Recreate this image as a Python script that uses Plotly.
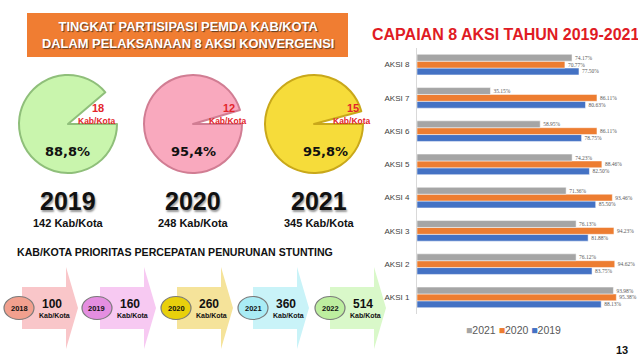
import plotly.graph_objects as go

W, H = 638, 359

# ---------------- data ----------------
aksi = ["AKSI 1", "AKSI 2", "AKSI 3", "AKSI 4", "AKSI 5", "AKSI 6", "AKSI 7", "AKSI 8"]
v2019 = [88.13, 83.75, 81.88, 85.50, 82.50, 78.75, 80.63, 77.50]
v2020 = [95.38, 94.62, 94.23, 93.46, 88.46, 86.11, 86.11, 70.77]
v2021 = [93.98, 76.12, 76.13, 71.36, 74.23, 58.95, 35.15, 74.17]
series_names = ["2019", "2020", "2021"]

pie_years = ["2019", "2020", "2021"]
pie_pct = [88.8, 95.4, 95.8]
pie_total = [142, 248, 345]
pie_missing = [18, 12, 15]

prio_years = ["2018", "2019", "2020", "2021", "2022"]
prio_counts = [100, 160, 260, 360, 514]

# ---------------- styles ----------------
bar_colors = {"2019": "#4472c4", "2020": "#ed7d31", "2021": "#a5a5a5"}
pie_fill = ["#c9f5ad", "#f9a9be", "#f6dc3a"]
pie_edge = ["#8fbf7a", "#d17d93", "#c9a81a"]
pie_cx = [68, 193, 314]
pie_cy = 124
pie_r = 49
arrow_fill = ["#f9c6c9", "#f7c9f2", "#f5e39a", "#c9f3f8", "#d9f8c9"]
ell_fill = ["#f2a08e", "#e48ee0", "#e8d00c", "#a9ecf5", "#bdee9f"]
prio_cx = [19, 97, 176, 253, 330]

NARROW = "Liberation Sans Narrow, Arial Narrow, Liberation Sans, Arial, sans-serif"
SANS = "Liberation Sans, Arial, sans-serif"
DEJA = "DejaVu Sans, Verdana, sans-serif"


def px(x):
    return x / W


def py(y):
    return 1 - y / H


fig = go.Figure()

# ---------------- bar chart ----------------
for name, vals in zip(series_names, [v2019, v2020, v2021]):
    fig.add_trace(go.Bar(
        y=aksi, x=vals, name=name, orientation="h",
        marker=dict(color=bar_colors[name], line=dict(color="white", width=0.5)),
        text=[f"{v:.2f}%" for v in vals], textposition="outside",
        textfont=dict(size=5.5, color="#595959", family="Liberation Serif, Times New Roman, serif"),
        constraintext="none", cliponaxis=False, showlegend=False,
        hoverinfo="x+y+name",
    ))

# ---------------- pies ----------------
for i in range(3):
    cx = pie_cx[i]
    fig.add_trace(go.Pie(
        values=[pie_pct[i], 100 - pie_pct[i]],
        labels=["Partisipasi", "Belum"],
        sort=False, direction="clockwise", rotation=90,
        marker=dict(colors=[pie_fill[i], "rgba(0,0,0,0)"],
                    line=dict(color=[pie_edge[i], "rgba(0,0,0,0)"], width=2)),
        textinfo="none", showlegend=False, hoverinfo="label+value",
        domain=dict(x=[px(cx - pie_r), px(cx + pie_r)],
                    y=[py(pie_cy + pie_r), py(pie_cy - pie_r)]),
    ))

shapes = []
annotations = []

# banner
shapes.append(dict(type="rect", xref="paper", yref="paper",
                   x0=px(27), x1=px(348), y0=py(57), y1=py(13),
                   fillcolor="#f07d32", line=dict(width=0), layer="below"))
annotations.append(dict(
    x=px(188), y=py(35), xref="paper", yref="paper", showarrow=False,
    text="<b>TINGKAT PARTISIPASI PEMDA KAB/KOTA<br>DALAM PELAKSANAAN 8 AKSI KONVERGENSI</b>",
    font=dict(family=NARROW, size=12.9, color="white", shadow="1px 1px 1px #5a3a20"),
    xanchor="center", yanchor="middle", align="center"))

# pie texts
pct_x = [67, 193, 325]
red_x = [97, 228, 352]
for i in range(3):
    annotations.append(dict(
        x=px(pct_x[i]), y=py(151), xref="paper", yref="paper", showarrow=False,
        text=f"<b>{str(pie_pct[i]).replace('.', ',')}%</b>",
        font=dict(family=DEJA, size=13, color="#111"), xanchor="center", yanchor="middle"))
    annotations.append(dict(
        x=px(red_x[i] + 1), y=py(108), xref="paper", yref="paper", showarrow=False,
        text=f"<b>{pie_missing[i]}</b>",
        font=dict(family=NARROW, size=11, color="#e3262b"), xanchor="center", yanchor="middle"))
    annotations.append(dict(
        x=px(red_x[i]), y=py(121), xref="paper", yref="paper", showarrow=False,
        text="<b>Kab/Kota</b>",
        font=dict(family=NARROW, size=8.5, color="#e3262b"), xanchor="center", yanchor="middle"))
    yx = [68, 193, 319][i]
    annotations.append(dict(
        x=px(yx), y=py(201), xref="paper", yref="paper", showarrow=False,
        text=f"<b>{pie_years[i]}</b>",
        font=dict(family=SANS, size=25, color="#111", shadow="1px 2px 2px #999"),
        xanchor="center", yanchor="middle"))
    annotations.append(dict(
        x=px(yx), y=py(223), xref="paper", yref="paper", showarrow=False,
        text=f"<b>{pie_total[i]} Kab/Kota</b>",
        font=dict(family=SANS, size=11, color="#111"), xanchor="center", yanchor="middle"))

# bottom-left section title
annotations.append(dict(
    x=px(175), y=py(252), xref="paper", yref="paper", showarrow=False,
    text="<b>KAB/KOTA PRIORITAS PERCEPATAN PENURUNAN STUNTING</b>",
    font=dict(family=SANS, size=10.6, color="#111"), xanchor="center", yanchor="middle"))

# arrows + ellipses
arrow_x0 = [22, 100, 177, 253, 330]
for i in range(5):
    x0 = arrow_x0[i]
    xb = x0 + 44
    xt = x0 + 56
    path = (f"M {px(x0)},{py(287)} L {px(xb)},{py(287)} L {px(xb)},{py(267)} "
            f"L {px(xt)},{py(308)} L {px(xb)},{py(349)} L {px(xb)},{py(329)} "
            f"L {px(x0)},{py(329)} Z")
    shapes.append(dict(type="path", xref="paper", yref="paper", path=path,
                       fillcolor=arrow_fill[i], line=dict(width=0), layer="below"))
    cx = prio_cx[i]
    shapes.append(dict(type="circle", xref="paper", yref="paper",
                       x0=px(cx - 15), x1=px(cx + 15), y0=py(319.5), y1=py(296.5),
                       fillcolor=ell_fill[i], line=dict(color="#7a7a7a", width=1.2)))
    annotations.append(dict(
        x=px(cx), y=py(308), xref="paper", yref="paper", showarrow=False,
        text=f"<b>{prio_years[i]}</b>",
        font=dict(family=NARROW, size=7.5, color="#111"), xanchor="center", yanchor="middle"))
    annotations.append(dict(
        x=px(cx + 33), y=py(304), xref="paper", yref="paper", showarrow=False,
        text=f"<b>{prio_counts[i]}</b>",
        font=dict(family=NARROW, size=12, color="#111"), xanchor="center", yanchor="middle"))
    annotations.append(dict(
        x=px(cx + 35), y=py(315.5), xref="paper", yref="paper", showarrow=False,
        text="<b>Kab/Kota</b>",
        font=dict(family=NARROW, size=7, color="#111"), xanchor="center", yanchor="middle"))

# bar chart title
annotations.append(dict(
    x=px(505), y=py(35), xref="paper", yref="paper", showarrow=False,
    text="<b>CAPAIAN 8 AKSI TAHUN 2019-2021</b>",
    font=dict(family=SANS, size=16, color="#e01b24"), xanchor="center", yanchor="middle"))

# custom legend
leg = " ".join(
    f"<span style='color:{bar_colors[n]}'>■</span>{n}" for n in ["2021", "2020", "2019"])
annotations.append(dict(
    x=px(513), y=py(330), xref="paper", yref="paper", showarrow=False,
    text=leg, font=dict(family=NARROW, size=10.5, color="#595959"),
    xanchor="center", yanchor="middle"))

# page number
annotations.append(dict(
    x=px(622), y=py(350), xref="paper", yref="paper", showarrow=False,
    text="<b>13</b>", font=dict(family=SANS, size=11, color="#111"),
    xanchor="center", yanchor="middle"))

fig.update_layout(
    width=W, height=H, margin=dict(l=0, r=0, t=0, b=0),
    paper_bgcolor="white", plot_bgcolor="white",
    barmode="group", bargap=0.38, bargroupgap=0.0,
    xaxis=dict(domain=[px(417), px(626)], range=[0, 100], showgrid=False,
               zeroline=False, showticklabels=False, showline=False, fixedrange=True),
    yaxis=dict(domain=[py(314), py(48)], categoryorder="array", categoryarray=aksi,
               showline=True, linecolor="#d9d9d9", linewidth=1, ticks="outside",
               ticklen=5, tickcolor="rgba(0,0,0,0)",
               tickfont=dict(family=NARROW, size=8, color="#404040"), showgrid=False),
    shapes=shapes, annotations=annotations, showlegend=False,
)

fig.write_html("out.html", config={"displayModeBar": False},
               post_script="document.body.style.margin='0';document.body.style.overflow='hidden';")
